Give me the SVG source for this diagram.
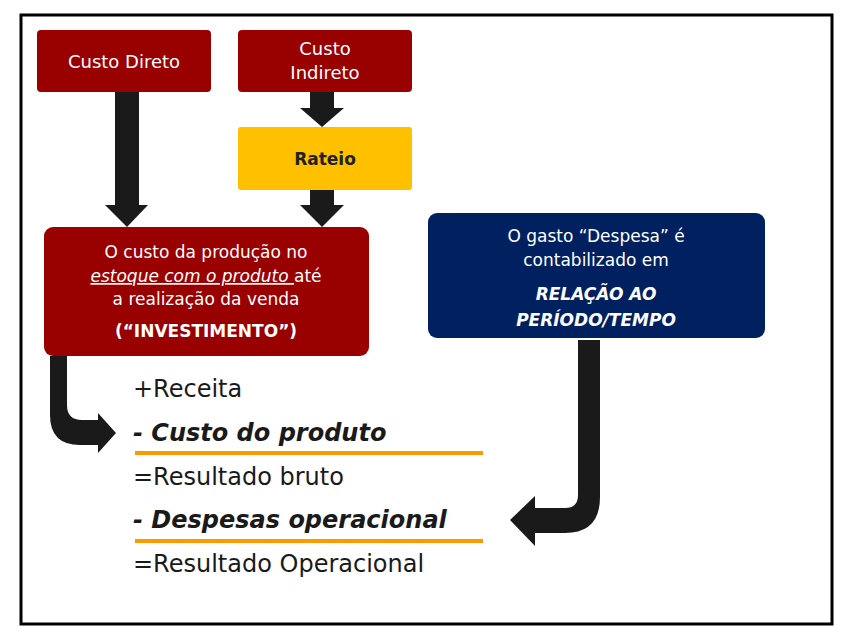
<svg xmlns="http://www.w3.org/2000/svg" width="850" height="643" viewBox="0 0 850 643">
<style>
.t{font-family:"DejaVu Sans",Verdana,sans-serif;fill:#fff;text-anchor:middle}
.r{fill:#990000}
.a{fill:#1a1a1a}
.l{font-family:"DejaVu Sans",Verdana,sans-serif;font-size:24px;fill:#1a1a1a}
.b{font-weight:bold;font-style:italic}
</style>
<rect width="850" height="643" fill="#fff"/>
<rect x="21" y="15" width="811" height="609" fill="#fff" stroke="#000" stroke-width="3"/>
<g id="connectors">
<polygon class="a" points="115,92 139,92 139,205 148,205 127,227 105,205 115,205"/>
<polygon class="a" points="310,92 334,92 334,108 344,108 322,127 300,108 310,108"/>
<polygon class="a" points="310,190 334,190 334,205 344,205 322,227 300,205 310,205"/>
<path class="a" d="M50,356 H67 V405 Q67,420 82,420 H98 V413 L116,433 L98,453 V445 H80 Q50,445 50,415 Z"/>
<path class="a" d="M578,340 H600 V497 Q600,533 565,533 H535 V546 L510,520 L535,496 V508 H565 Q578,508 578,495 Z"/>
<line x1="135" y1="453" x2="483" y2="453" stroke="#FF9900" stroke-width="4"/>
<line x1="135" y1="541" x2="483" y2="541" stroke="#FF9900" stroke-width="4"/>
</g>
<g id="custo-direto"><rect class="r" x="37" y="30" width="174" height="62" rx="4"/><text class="t" x="124" y="68" font-size="18">Custo Direto</text></g>
<g id="custo-indireto"><rect class="r" x="238" y="30" width="174" height="62" rx="4"/><text class="t" x="325" y="55" font-size="18">Custo</text><text class="t" x="325" y="79" font-size="18">Indireto</text></g>
<g id="rateio"><rect x="238" y="127" width="174" height="63" rx="3" fill="#FFC000"/><text class="t" x="325" y="165" font-size="17" font-weight="bold" style="fill:#222">Rateio</text></g>
<g id="investimento"><rect class="r" x="44" y="227" width="325" height="129" rx="9"/>
<text class="t" x="206" y="258" font-size="17">O custo da produção no</text>
<text class="t" x="206" y="282" font-size="17"><tspan font-style="italic" text-decoration="underline">estoque com o produto </tspan>até</text>
<text class="t" x="206" y="305" font-size="17">a realização da venda</text>
<text class="t" x="206" y="337" font-size="17" font-weight="bold">(“INVESTIMENTO”)</text></g>
<g id="despesa"><rect x="428" y="213" width="337" height="125" rx="9" fill="#002060"/>
<text class="t" x="596" y="242" font-size="17">O gasto “Despesa” é</text>
<text class="t" x="596" y="266" font-size="17">contabilizado em</text>
<text class="t b" x="596" y="300" font-size="17">RELAÇÃO AO</text>
<text class="t b" x="596" y="326" font-size="17">PERÍODO/TEMPO</text></g>
<g id="dre">
<text class="l" x="133" y="397">+Receita</text>
<text class="l b" x="133" y="441">- Custo do produto</text>
<text class="l" x="133" y="485">=Resultado bruto</text>
<text class="l b" x="133" y="528">- Despesas operacional</text>
<text class="l" x="133" y="572">=Resultado Operacional</text>
</g>
</svg>
